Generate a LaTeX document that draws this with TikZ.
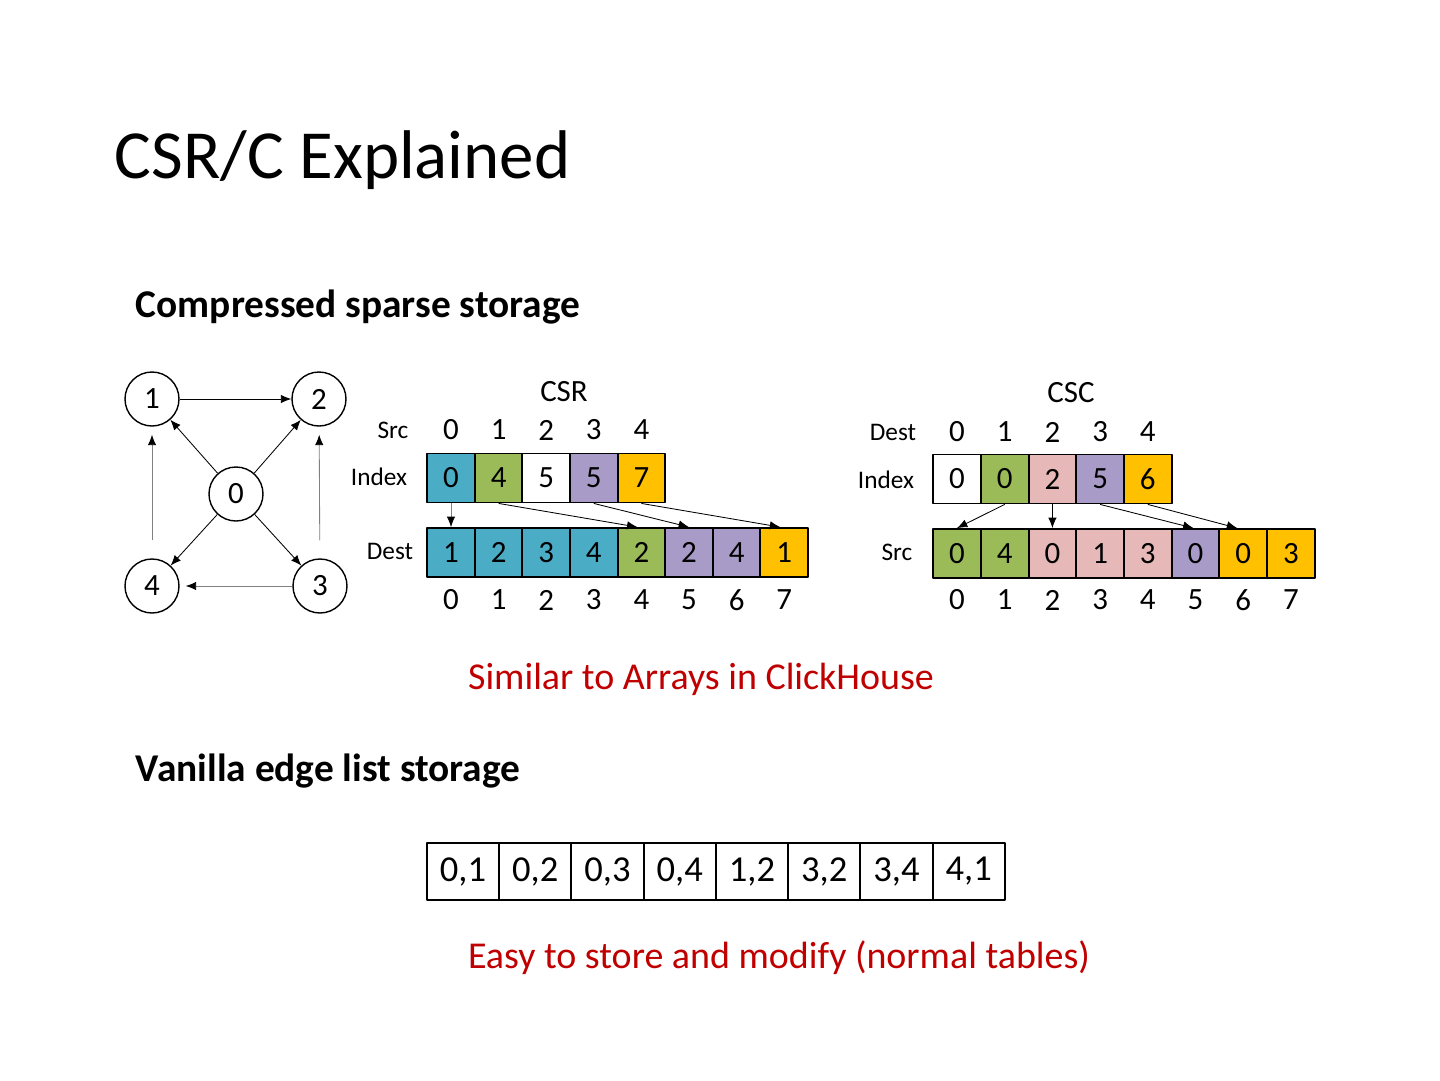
\documentclass[tikz,border=0pt]{standalone}
\usepackage{fontspec}
\setmainfont{Carlito}
\usetikzlibrary{arrows.meta}
\definecolor{cteal}{HTML}{4BACC6}
\definecolor{cgreen}{HTML}{9BBB59}
\definecolor{cpurple}{HTML}{A99BC7}
\definecolor{corange}{HTML}{FFC000}
\definecolor{cpink}{HTML}{E6B9B8}
\definecolor{cred}{HTML}{C00000}
\tikzset{
  vertex/.style={draw, circle, line width=1pt, minimum size=13.5mm, inner sep=0pt, font=\fontsize{22}{22}\selectfont},
  cell/.style={draw, line width=1.3pt, minimum width=11.9mm, minimum height=12.25mm, inner sep=0pt, font=\fontsize{22}{22}\selectfont},
  pair/.style={draw, line width=1.3pt, minimum width=18.06mm, minimum height=14.25mm, inner sep=0pt, font=\fontsize{26}{26}\selectfont},
  lbl/.style={font=\fontsize{18}{18}\selectfont},
  num/.style={font=\fontsize{22}{22}\selectfont},
  note/.style={text=cred, font=\fontsize{27}{27}\selectfont},
  head/.style={anchor=west, font=\fontsize{28}{28}\selectfont\bfseries},
  link/.style={->, line width=0.6pt},
  greylink/.style={-{Latex[length=2.6mm,width=2.1mm,color=black]}, line width=0.6pt, gray},
}
\begin{document}
\begin{tikzpicture}[x=0.25mm, y=-0.25mm, line join=round, >={Latex[length=2.6mm,width=2.1mm]}]
\useasboundingbox (0,0) rectangle (1440,1080);
% titles
\node[anchor=west, font=\fontsize{49}{49}\selectfont] (title) at (110,160) {CSR/C Explained};
\node[head] (hcsr) at (131,307) {Compressed sparse storage};
\node[head] (hedge) at (131,771) {Vanilla edge list storage};
% graph
\node[vertex] (v1) at (152,399) {1};
\node[vertex] (v2) at (319,399) {2};
\node[vertex] (v0) at (236,494) {0};
\node[vertex] (v4) at (152,586) {4};
\node[vertex] (v3) at (320,586) {3};
\draw[link] (v1) -- (v2);
\draw[link] (v0) -- (v1);
\draw[link] (v0) -- (v2);
\draw[link] (v0) -- (v3);
\draw[link] (v0) -- (v4);
\draw[greylink, shorten <=4.5mm, shorten >=2mm] (v4) -- (v1);
\draw[greylink, shorten <=4.5mm, shorten >=2mm] (v3) -- (v2);
\draw[greylink, shorten >=1.5mm] (v3) -- (v4);
% CSR
\node[num] (tcsr) at (564,392) {CSR};
\node[lbl] (csrsrc) at (393,430) {Src};
\node[lbl] (csrindex) at (379,477) {Index};
\node[lbl] (csrdest) at (390,551) {Dest};
\foreach \v/\c [count=\i from 0] in {0/cteal,4/cgreen,5/white,5/cpurple,7/corange}{
  \node[num] (csrT\i) at (451+47.6*\i,430) {\i};
  \node[cell, fill=\c] (csrI\i) at (451+47.6*\i,478) {\v};
}
\foreach \v/\c [count=\i from 0] in {1/cteal,2/cteal,3/cteal,4/cteal,2/cgreen,2/cpurple,4/cpurple,1/corange}{
  \node[cell, fill=\c] (csrD\i) at (451+47.6*\i,552.5) {\v};
  \node[num] (csrB\i) at (451+47.6*\i,600) {\i};
}
\draw[greylink] (csrI0) -- (csrD0);
\draw[link] (csrI1.south) -- ([xshift=-1mm]csrD4.north);
\draw[link] (csrI3.south) -- (csrD5.north);
\draw[link] (csrI4.south) -- ([xshift=-1mm]csrD7.north);
% CSC
\node[num] (tcsc) at (1071,393) {CSC};
\node[lbl] (cscdest) at (893,432) {Dest};
\node[lbl] (cscindex) at (886,480) {Index};
\node[lbl] (cscsrc) at (897,552) {Src};
\foreach \v/\c [count=\i from 0] in {0/white,0/cgreen,2/cpink,5/cpurple,6/corange}{
  \node[num] (cscT\i) at (957+47.7*\i,432) {\i};
  \node[cell, fill=\c] (cscI\i) at (957+47.7*\i,479) {\v};
}
\foreach \v/\c [count=\i from 0] in {0/cgreen,4/cgreen,0/cpink,1/cpink,3/cpink,0/cpurple,0/corange,3/corange}{
  \node[cell, fill=\c] (cscS\i) at (957+47.7*\i,553.5) {\v};
  \node[num] (cscB\i) at (957+47.7*\i,600) {\i};
}
\draw[link] (cscI1.south) -- (cscS0.north);
\draw[link] (cscI2) -- (cscS2);
\draw[link] (cscI3.south) -- ([xshift=-0.5mm]cscS5.north);
\draw[link] (cscI4.south) -- ([xshift=-1.5mm]cscS6.north);
\node[note] (n1) at (701,679) {Similar to Arrays in ClickHouse};
% edge list
\foreach \e [count=\i from 0] in {{0,1},{0,2},{0,3},{0,4},{1,2},{3,2},{3,4},{4,1}}{
  \node[pair] (e\i) at (463+72.25*\i,871.5) {\e};
}
\node[note] (n2) at (779,958) {Easy to store and modify (normal tables)};
\end{tikzpicture}
\end{document}
